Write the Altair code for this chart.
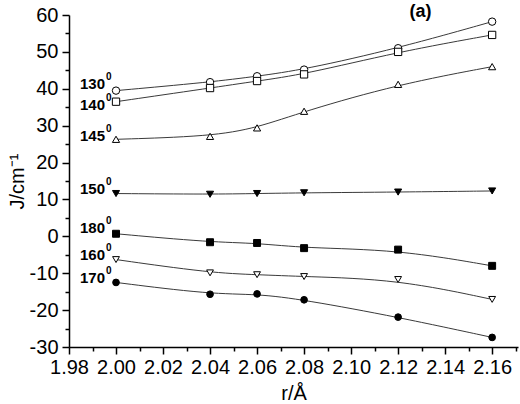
import altair as alt
import pandas as pd

# ---- data ----
r_values = [2.00, 2.04, 2.06, 2.08, 2.12, 2.16]
series_names = ["130", "140", "145", "150", "180", "160", "170"]
j130 = [39.5, 41.8, 43.4, 45.2, 51.0, 58.2]
j140 = [36.5, 40.2, 42.1, 43.9, 50.0, 54.6]
j145 = [26.3, 27.1, 29.4, 33.9, 41.2, 46.0]
j150 = [11.6, 11.4, 11.6, 11.8, 12.0, 12.3]
j180 = [0.7, -1.6, -1.8, -3.2, -3.6, -8.0]
j160 = [-6.3, -9.9, -10.4, -10.9, -11.7, -17.1]
j170 = [-12.5, -15.7, -15.6, -17.2, -21.9, -27.4]
label_r = [2.00, 2.00, 2.00, 2.00, 2.00, 2.00, 2.00]
label_j = [41.2, 35.7, 27.1, 12.7, 2.3, -5.0, -11.3]
panel_label = ["(a)"]
panel_r = [2.1295]
panel_j = [60.8]

x_ticks = [1.98, 2.00, 2.02, 2.04, 2.06, 2.08, 2.10, 2.12, 2.14, 2.16]
x_minor = [1.99, 2.01, 2.03, 2.05, 2.07, 2.09, 2.11, 2.13, 2.15, 2.17]
y_ticks = [-30, -20, -10, 0, 10, 20, 30, 40, 50, 60]
y_minor = [-25, -15, -5, 5, 15, 25, 35, 45, 55]

rows = []
for name, vals in zip(series_names, [j130, j140, j145, j150, j180, j160, j170]):
    for r, v in zip(r_values, vals):
        rows.append({"series": name, "r": r, "J": v})
df = pd.DataFrame(rows)
lab = pd.DataFrame({"series": series_names, "r": label_r, "J": label_j})
pan = pd.DataFrame({"t": panel_label, "r": panel_r, "J": panel_j})

shapes = ["circle", "square", "triangle-up", "triangle-down", "square", "triangle-down", "circle"]
fills = ["white", "white", "white", "black", "black", "white", "black"]
sizes = [55, 45, 70, 70, 45, 70, 65]

FONT = "Liberation Sans"
xscale = alt.Scale(domain=[1.98, 2.171], nice=False, zero=False)
yscale = alt.Scale(domain=[-30, 60], nice=False, zero=False)

xaxis = alt.Axis(values=x_ticks, format=".2f", title="r/Å", orient="bottom",
                 tickSize=7, labelPadding=3, titlePadding=6, labelOverlap=False,
                 labelFlush=False)
yaxis = alt.Axis(values=y_ticks, title="J/cm⁻¹", orient="left",
                 labelExpr="'' + datum.value",
                 tickSize=7, labelPadding=4, titlePadding=2, labelOverlap=False,
                 labelFlush=False)

base = alt.Chart(df)

lines = base.mark_line(interpolate="basis", color="#3a3a3a", strokeWidth=1).encode(
    x=alt.X("r:Q", scale=xscale, axis=xaxis),
    y=alt.Y("J:Q", scale=yscale, axis=yaxis),
    detail="series:N",
)

minor = base.mark_point(opacity=0).encode(
    x=alt.X("r:Q", scale=xscale,
            axis=alt.Axis(values=x_minor, labels=False, tickSize=4, domain=False,
                          title="", orient="bottom")),
    y=alt.Y("J:Q", scale=yscale,
            axis=alt.Axis(values=y_minor, labels=False, tickSize=4, domain=False,
                          title="", orient="left")),
)

points = base.mark_point(filled=True, stroke="black", strokeWidth=1, opacity=1).encode(
    x=alt.X("r:Q", scale=xscale, axis=None),
    y=alt.Y("J:Q", scale=yscale, axis=None),
    shape=alt.Shape("series:N", scale=alt.Scale(domain=series_names, range=shapes), legend=None),
    fill=alt.Fill("series:N", scale=alt.Scale(domain=series_names, range=fills), legend=None),
    size=alt.Size("series:O", scale=alt.Scale(domain=series_names, range=sizes), legend=None),
)

labels = alt.Chart(lab).mark_text(font=FONT, fontWeight="bold", fontSize=15,
                                  align="right", baseline="middle", dx=-11, color="black").encode(
    x=alt.X("r:Q", scale=xscale, axis=None), y=alt.Y("J:Q", scale=yscale, axis=None),
    text="series:N")

sups = alt.Chart(lab).mark_text(font=FONT, fontWeight="bold", fontSize=10,
                                align="left", baseline="middle", dx=-10, dy=-7, color="black").encode(
    x=alt.X("r:Q", scale=xscale, axis=None), y=alt.Y("J:Q", scale=yscale, axis=None),
    text=alt.value("0"))

panel = alt.Chart(pan).mark_text(font=FONT, fontWeight="bold", fontSize=18,
                                 align="center", baseline="middle", color="black").encode(
    x=alt.X("r:Q", scale=xscale, axis=None), y=alt.Y("J:Q", scale=yscale, axis=None),
    text="t:N")

chart = alt.layer(lines, minor, points, labels, sups, panel).resolve_axis(
    x="independent", y="independent"
).properties(
    width=449, height=332,
    autosize=alt.AutoSizeParams(type="none"),
    padding={"left": 69, "top": 15, "right": 2, "bottom": 57},
    background="white",
).configure_view(stroke=None).configure_axis(
    labelFont=FONT, titleFont=FONT, labelFontSize=20, titleFontSize=20,
    labelColor="black", titleColor="black", titleFontWeight="normal",
    domainColor="black", tickColor="black", domainWidth=1.5, tickWidth=1.5,
    grid=False,
)

chart.save("out.html", embed_options={"renderer": "svg", "actions": False})
